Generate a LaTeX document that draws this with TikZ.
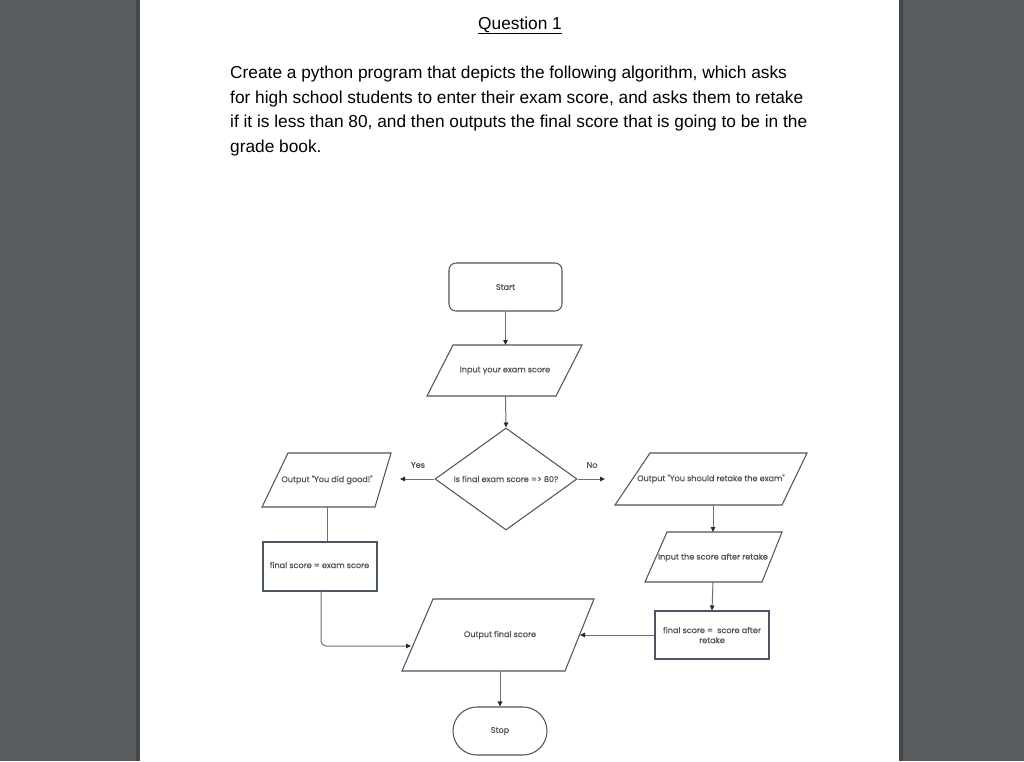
\documentclass[tikz,border=0pt]{standalone}
\usepackage{fontspec}
\setmainfont{Liberation Sans}
\newfontfamily\flowfont[FakeBold=0.35]{Poppins}
\usetikzlibrary{arrows.meta,shapes.geometric}
\definecolor{bgray}{HTML}{585C5F}
\definecolor{bedge}{HTML}{45484B}
\definecolor{shapeline}{HTML}{4A5663}
\definecolor{conn}{HTML}{6E6E6E}
\definecolor{tipc}{HTML}{2A2A2A}
\definecolor{ftext}{HTML}{505050}
\tikzset{
  shapebox/.style={draw=shapeline, line width=1.05pt, fill=white},
  lbl/.style={font=\flowfont\fontsize{8.1}{10}\selectfont, text=ftext, inner sep=0pt, align=center},
  conn/.style={draw=conn, line width=1pt, -{Triangle[length=5pt,width=4.5pt,color=tipc]}},
  plain/.style={draw=conn, line width=1pt},
  para/.style={anchor=base west, inner sep=0pt, font=\fontsize{17.3}{20}\selectfont}
}
\begin{document}
\begin{tikzpicture}[x=1pt,y=-1pt]
\useasboundingbox (0,0) rectangle (1024,761);
\fill[bgray] (0,0) rectangle (1024,761);
\fill[bedge] (136,0) rectangle (140,761);
\fill[bedge] (899,0) rectangle (903,761);
\fill[white] (140,0) rectangle (899,761);

% header text
\node[anchor=base, inner sep=0pt, font=\fontsize{17.3}{20}\selectfont] (title) at (520,29) {\underline{Question 1}};
\node[para] (p1) at (230,78.5) {Create a python program that depicts the following algorithm, which asks};
\node[para] (p2) at (230,103) {for high school students to enter their exam score, and asks them to retake};
\node[para] (p3) at (230,127.5) {if it is less than 80, and then outputs the final score that is going to be in the};
\node[para] (p4) at (230,152) {grade book.};

% Start
\node[shapebox, rounded corners=7pt, minimum width=113pt, minimum height=48pt, inner sep=0pt] (start) at (505.5,287) {};
\node[lbl] (startT) at (505.5,287) {Start};

% Input exam score
\draw[shapebox] (453,345) -- (582,345) -- (556,396) -- (427,396) -- cycle;
\node[lbl] (input) at (505,370.5) {Input your exam score};
\coordinate (inTop) at (505.5,345);
\coordinate (inBot) at (505.5,396);

% Decision
\node[shapebox, diamond, minimum width=142pt, minimum height=102pt, inner sep=0pt] (dec) at (506,479) {};
\node[lbl] (decT) at (506,479) {Is final exam score =\kern0.5pt> 80?};
\node[lbl] (yes) at (418,465) {Yes};
\node[lbl] (no) at (592,465) {No};

% left branch
\draw[shapebox] (288,453) -- (391,453) -- (375,507) -- (262,507) -- cycle;
\node[lbl] (good) at (327,480) {Output "You did good!"};
\coordinate (goodR) at (400,479);
\coordinate (goodB) at (327,507);
\node[shapebox, minimum width=114pt, minimum height=49pt, inner sep=0pt] (fs1) at (320,566.5) {};
\node[lbl] (fs1T) at (319.5,565) {final score = exam score};
\coordinate (fs1B) at (321,591);
\coordinate (bend) at (321,646);

% right branch
\draw[shapebox] (650,453) -- (807,453) -- (782,505) -- (615,505) -- cycle;
\node[lbl] (retake) at (711,479) {Output "You should retake the exam"};
\coordinate (retL) at (605,479);
\coordinate (retB) at (713,505);
\draw[shapebox] (667,532) -- (782,532) -- (762,582) -- (645,582) -- cycle;
\node[lbl] (inRet) at (713,557.5) {Input the score after retake};
\coordinate (inRetT) at (713,532);
\coordinate (inRetB) at (713,582);
\node[shapebox, minimum width=114pt, minimum height=48pt, inner sep=0pt] (fs2) at (712,635) {};
\node[lbl] (fs2T) at (712,635) {final score = \ score after\\retake};

% output final
\draw[shapebox] (433,599) -- (594,599) -- (565,671) -- (402,671) -- cycle;
\node[lbl] (out) at (500,635) {Output final score};
\coordinate (outR) at (580,635);
\coordinate (outL) at (411,646);
\coordinate (outB) at (500,671);

% Stop
\node[shapebox, rounded corners=24pt, minimum width=94pt, minimum height=48pt, inner sep=0pt] (stop) at (500,731) {};
\node[lbl] (stopT) at (500,731) {Stop};

% connectors
\draw[conn] (start.south) -- (inTop);
\draw[conn] (inBot) -- (dec.north);
\draw[conn] (dec.west) -- (goodR);
\draw[conn] (dec.east) -- (retL);
\draw[plain] (goodB) -- (fs1.north -| goodB);
\draw[conn, rounded corners=5pt] (fs1B) -- (bend) -- (outL);
\draw[conn] (retB) -- (inRetT);
\draw[conn] (inRetB) -- (fs2.north);
\draw[conn] (fs2.west) -- (outR);
\draw[conn] (outB) -- (stop.north);
\end{tikzpicture}
\end{document}
